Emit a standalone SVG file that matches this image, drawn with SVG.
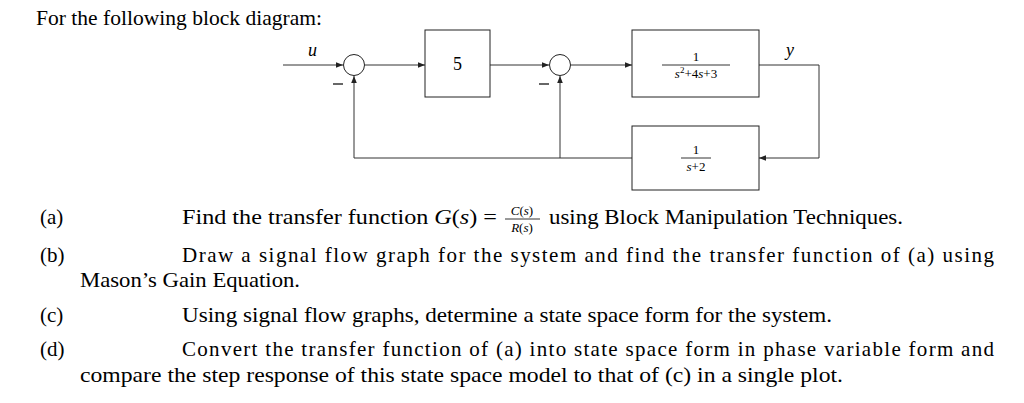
<svg xmlns="http://www.w3.org/2000/svg" width="1024" height="403" viewBox="0 0 1024 403">
<style>
text{font-family:"Liberation Serif","DejaVu Serif",serif;fill:#000}
.t{font-size:21px}
.m{font-size:18px}
.s{font-size:13px}
.i{font-style:italic}
.b{fill:#fff;stroke:#222;stroke-width:1}
.w{fill:none;stroke:#333;stroke-width:1}
</style>
<defs><marker id="a" viewBox="0 0 10 10" refX="10" refY="5" markerWidth="7" markerHeight="7" orient="auto"><path d="M0,1 L10,5 L0,9 z" fill="#222"/></marker></defs>
<rect width="1024" height="403" fill="#fff"/>
<text class="t" x="36" y="25" textLength="286" lengthAdjust="spacingAndGlyphs">For the following block diagram:</text>
<g id="connectors">
<path class="w" d="M283,65 H343" marker-end="url(#a)"/>
<path class="w" d="M365,65 H425" marker-end="url(#a)"/>
<path class="w" d="M490,65 H549" marker-end="url(#a)"/>
<path class="w" d="M571,65 H632" marker-end="url(#a)"/>
<path class="w" d="M759,65 H819 V158 H759" marker-end="url(#a)"/>
<path class="w" d="M632,158 H354 V76" marker-end="url(#a)"/>
<path class="w" d="M560,158 V76" marker-end="url(#a)"/>
</g>
<g id="sum1"><circle class="b" cx="354" cy="65" r="10.5"/><path d="M333,84 H343" stroke="#000" stroke-width="1.2"/></g>
<g id="gain"><rect class="b" x="425" y="30" width="65" height="67"/><text class="m" x="457.5" y="70" text-anchor="middle">5</text></g>
<g id="sum2"><circle class="b" cx="560" cy="65" r="10.5"/><path d="M539,84 H549" stroke="#000" stroke-width="1.2"/></g>
<g id="plant"><rect class="b" x="632" y="30" width="127" height="67"/>
<text class="s" x="696" y="61" text-anchor="middle">1</text><path d="M662,65 H730" stroke="#000" stroke-width="0.8"/>
<text class="s" x="696" y="78" text-anchor="middle"><tspan class="i">s</tspan><tspan dy="-5" font-size="9">2</tspan><tspan dy="5">+4</tspan><tspan class="i">s</tspan>+3</text></g>
<g id="feedback"><rect class="b" x="632" y="126" width="127" height="64"/>
<text class="s" x="696" y="154" text-anchor="middle">1</text><path d="M681,158 H711" stroke="#000" stroke-width="0.8"/>
<text class="s" x="696" y="171" text-anchor="middle"><tspan class="i">s</tspan>+2</text></g>
<text class="m i" x="308" y="56">u</text>
<text class="m i" x="786" y="56">y</text>
<text class="t" x="40" y="224">(a)</text>
<text class="t" x="182" y="224" textLength="315" lengthAdjust="spacingAndGlyphs">Find the transfer function <tspan class="i">G</tspan>(<tspan class="i">s</tspan>) =</text>
<text class="s" x="522" y="215" text-anchor="middle"><tspan class="i">C</tspan>(<tspan class="i">s</tspan>)</text>
<path d="M505,219 H540" stroke="#000" stroke-width="0.8"/>
<text class="s" x="522" y="232" text-anchor="middle"><tspan class="i">R</tspan>(<tspan class="i">s</tspan>)</text>
<text class="t" x="549" y="224" textLength="354" lengthAdjust="spacingAndGlyphs">using Block Manipulation Techniques.</text>
<text class="t" x="40" y="262">(b)</text>
<text class="t" x="182" y="262" textLength="812" lengthAdjust="spacing">Draw a signal flow graph for the system and find the transfer function of (a) using</text>
<text class="t" x="80" y="287" textLength="220" lengthAdjust="spacingAndGlyphs">Mason’s Gain Equation.</text>
<text class="t" x="40" y="322">(c)</text>
<text class="t" x="182" y="322" textLength="650" lengthAdjust="spacingAndGlyphs">Using signal flow graphs, determine a state space form for the system.</text>
<text class="t" x="40" y="356">(d)</text>
<text class="t" x="182" y="356" textLength="812" lengthAdjust="spacing">Convert the transfer function of (a) into state space form in phase variable form and</text>
<text class="t" x="80" y="382" textLength="763" lengthAdjust="spacingAndGlyphs">compare the step response of this state space model to that of (c) in a single plot.</text>
</svg>
